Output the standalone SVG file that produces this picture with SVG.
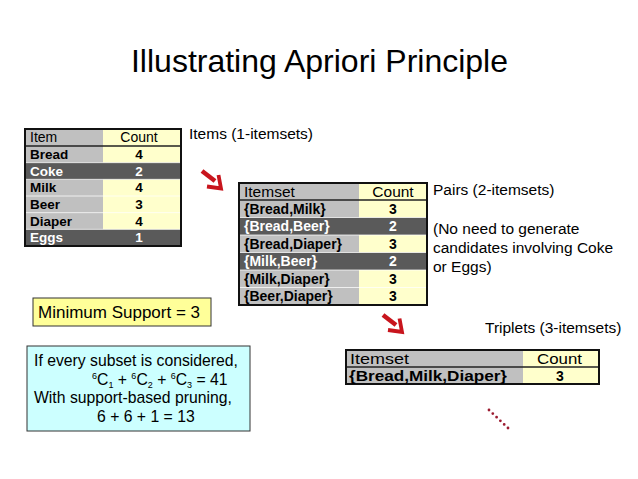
<svg xmlns="http://www.w3.org/2000/svg" width="638" height="479" viewBox="0 0 638 479">
<style>
text{font-family:"Liberation Sans",Arial,sans-serif;fill:#000}
.g{fill:#c0c0c0}
.y{fill:#ffffcc}
.d{fill:#5a5a5a}
.sep{stroke:#ffffff;stroke-width:1;opacity:.75}
.hdr{stroke:#222;stroke-width:1.5}
.frame{fill:none;stroke:#111;stroke-width:2}
.t1h{font-size:14px}
.t1{font-size:13.5px;font-weight:bold}
.t2h{font-size:15.5px}
.t2{font-size:14px;font-weight:bold}
.w{fill:#fff}
.c{text-anchor:middle}
.lbl{font-size:15.5px}
.arrow{fill:none;stroke:#c8151d;stroke-width:4.5;stroke-linecap:butt}
.head{fill:none;stroke:#c8151d;stroke-width:3.8;stroke-linejoin:miter}
</style>
<rect width="638" height="479" fill="#fff"/>
<text x="319.5" y="72" font-size="32" text-anchor="middle">Illustrating Apriori Principle</text>

<g id="items-table">
<rect class="g" x="25" y="129" width="78" height="117"/>
<rect class="y" x="103" y="129" width="78" height="117"/>
<rect class="d" x="25" y="162.67" width="156" height="16.67"/>
<rect class="d" x="25" y="229.33" width="156" height="16.67"/>
<line class="sep" x1="25" y1="196" x2="181" y2="196"/>
<line class="sep" x1="25" y1="212.67" x2="181" y2="212.67"/>
<line class="sep" x1="25" y1="179.33" x2="181" y2="179.33"/>
<line class="sep" x1="25" y1="162.67" x2="181" y2="162.67"/>
<line class="sep" x1="25" y1="229.33" x2="181" y2="229.33"/>
<line class="hdr" x1="25" y1="146" x2="181" y2="146"/>
<rect class="frame" x="25" y="129" width="156" height="117"/>
<text class="t1h" x="30" y="142">Item</text>
<text class="t1h c" x="139" y="142">Count</text>
<text class="t1" x="30" y="159">Bread</text><text class="t1 c" x="139" y="159">4</text>
<text class="t1 w" x="30" y="175.7">Coke</text><text class="t1 c w" x="139" y="175.7">2</text>
<text class="t1" x="30" y="192.3">Milk</text><text class="t1 c" x="139" y="192.3">4</text>
<text class="t1" x="30" y="209">Beer</text><text class="t1 c" x="139" y="209">3</text>
<text class="t1" x="30" y="225.7">Diaper</text><text class="t1 c" x="139" y="225.7">4</text>
<text class="t1 w" x="30" y="242.3">Eggs</text><text class="t1 c w" x="139" y="242.3">1</text>
</g>
<text class="lbl" x="189" y="139">Items (1-itemsets)</text>

<g id="pairs-table">
<rect class="g" x="239" y="183" width="120" height="122"/>
<rect class="y" x="359" y="183" width="68" height="122"/>
<rect class="d" x="239" y="217.5" width="188" height="17.5"/>
<rect class="d" x="239" y="252.5" width="188" height="17.5"/>
<line class="sep" x1="239" y1="217.5" x2="427" y2="217.5"/>
<line class="sep" x1="239" y1="235" x2="427" y2="235"/>
<line class="sep" x1="239" y1="252.5" x2="427" y2="252.5"/>
<line class="sep" x1="239" y1="270" x2="427" y2="270"/>
<line class="sep" x1="239" y1="287.5" x2="427" y2="287.5"/>
<line class="hdr" x1="239" y1="200" x2="427" y2="200"/>
<rect class="frame" x="239" y="183" width="188" height="122"/>
<text class="t2h" x="244" y="197">Itemset</text>
<text class="t2h c" x="393" y="197">Count</text>
<text class="t2" x="244" y="213.5">{Bread,Milk}</text><text class="t2 c" x="393" y="213.5">3</text>
<text class="t2 w" x="244" y="231">{Bread,Beer}</text><text class="t2 c w" x="393" y="231">2</text>
<text class="t2" x="244" y="248.5">{Bread,Diaper}</text><text class="t2 c" x="393" y="248.5">3</text>
<text class="t2 w" x="244" y="266">{Milk,Beer}</text><text class="t2 c w" x="393" y="266">2</text>
<text class="t2" x="244" y="283.5">{Milk,Diaper}</text><text class="t2 c" x="393" y="283.5">3</text>
<text class="t2" x="244" y="301">{Beer,Diaper}</text><text class="t2 c" x="393" y="301">3</text>
</g>
<text class="lbl" x="433" y="195">Pairs (2-itemsets)</text>
<text class="lbl" x="433" y="234">(No need to generate</text>
<text class="lbl" x="433" y="253">candidates involving Coke</text>
<text class="lbl" x="433" y="272">or Eggs)</text>

<g id="triplets-table">
<rect class="g" x="346" y="350" width="177" height="34"/>
<rect class="y" x="523" y="350" width="76" height="34"/>
<line class="hdr" x1="346" y1="367" x2="599" y2="367"/>
<rect class="frame" x="346" y="350" width="253" height="34"/>
<text x="350" y="363.5" font-size="14" textLength="59" lengthAdjust="spacingAndGlyphs">Itemset</text>
<text x="537" y="363.5" font-size="14" textLength="45" lengthAdjust="spacingAndGlyphs">Count</text>
<text x="349" y="380.5" font-size="14" font-weight="bold" textLength="158" lengthAdjust="spacingAndGlyphs">{Bread,Milk,Diaper}</text>
<text x="560" y="380.5" font-size="14" font-weight="bold" text-anchor="middle">3</text>
</g>
<text class="lbl" x="485" y="333">Triplets (3-itemsets)</text>

<g id="min-support">
<rect x="33" y="298" width="178" height="28" fill="#ffff99" stroke="#333" stroke-width="1"/>
<text x="38" y="318" font-size="17">Minimum Support = 3</text>
</g>

<g id="count-box">
<rect x="27" y="346" width="223" height="85" fill="#ccffff" stroke="#333" stroke-width="1"/>
<text x="34" y="366" font-size="15.75">If every subset is considered,</text>
<text x="92" y="384.5" font-size="15.75"><tspan font-size="9" dy="-6">6</tspan><tspan dy="6">C</tspan><tspan font-size="9" dy="3">1</tspan><tspan dy="-3"> + </tspan><tspan font-size="9" dy="-6">6</tspan><tspan dy="6">C</tspan><tspan font-size="9" dy="3">2</tspan><tspan dy="-3"> + </tspan><tspan font-size="9" dy="-6">6</tspan><tspan dy="6">C</tspan><tspan font-size="9" dy="3">3</tspan><tspan dy="-3"> = 41</tspan></text>
<text x="34" y="403" font-size="15.75">With support-based pruning,</text>
<text x="97" y="421.5" font-size="15.75">6 + 6 + 1 = 13</text>
</g>

<g id="connectors">
<line class="arrow" x1="202" y1="171" x2="215" y2="181"/>
<polyline class="head" points="207,186.5 221,188.5 218.5,175"/>
<line class="arrow" x1="383" y1="315" x2="396" y2="325"/>
<polyline class="head" points="388,330 402,332 399.5,318.5"/>
<line x1="489" y1="410" x2="508" y2="428" stroke="#9b1b30" stroke-width="2.8" stroke-linecap="round" stroke-dasharray="0 5.23"/>
</g>
</svg>
